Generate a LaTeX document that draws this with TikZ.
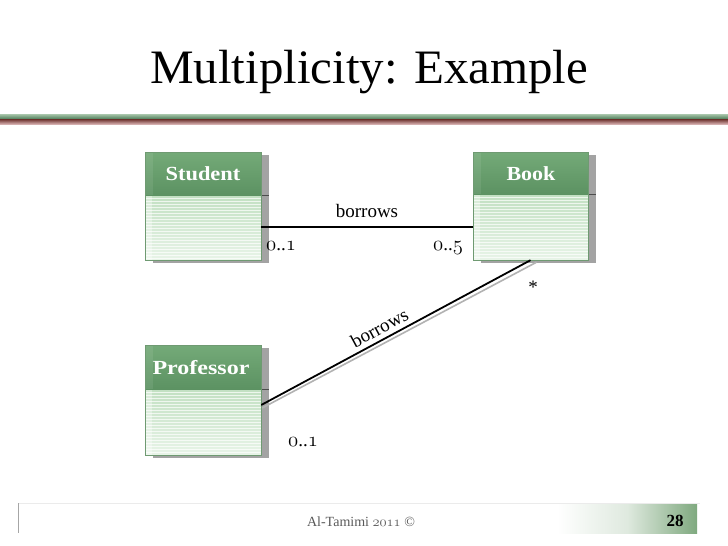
\documentclass[tikz,border=0pt]{standalone}
\usepackage{fontspec}
\setmainfont{Liberation Serif}
\usetikzlibrary{calc,fit}
\newcommand\osn[2]{{\fontencoding{OML}\fontfamily{lmm}\fontseries{m}\fontshape{it}\fontsize{#1}{#1}\selectfont #2}}
\definecolor{hdrtop}{HTML}{74AA78}
\definecolor{hdrbot}{HTML}{5C9262}
\definecolor{bodytop}{HTML}{C2E0C2}
\definecolor{bodybot}{HTML}{E8F4E8}
\definecolor{shadowgray}{HTML}{A3A3A3}
\definecolor{boxedge}{HTML}{6F9A72}
\definecolor{barGtop}{HTML}{A9C7AC}
\definecolor{barGbot}{HTML}{4E7C58}
\definecolor{barRtop}{HTML}{6A2E29}
\definecolor{barRbot}{HTML}{D4AEAE}
\definecolor{footgreen}{HTML}{7FA97F}
\newcommand\umlclass[7]{%
  \fill[shadowgray] (#2+8,#3+3) rectangle (#4+8,#5+3);
  \draw[black!70,line width=0.8pt] (#4,#6) -- (#4+8,#6);
  \shade[top color=bodytop,bottom color=bodybot] (#2,#6) rectangle (#4,#5);
  \foreach \k in {1,...,21}{\draw[white,opacity=0.7,line width=1pt] (#2,#6+3*\k) -- (#4,#6+3*\k);}
  \fill[white,opacity=0.35] (#2,#6) rectangle (#2+7,#5);
  \shade[top color=hdrtop,bottom color=hdrbot] (#2,#3) rectangle (#4,#6);
  \fill[white,opacity=0.08] (#2,#3) rectangle (#2+8,#6);
  \draw[boxedge,line width=0.6pt] (#2,#3) rectangle (#4,#5);
  \node[fit={(#2,#3) (#4,#5)},inner sep=0pt] (#1) {};
}
\begin{document}
\begin{tikzpicture}[x=1pt,y=-1pt,
  hdrtext/.style={anchor=base,text=white,font=\fontsize{20}{22}\bfseries\selectfont,inner sep=0pt},
  multtext/.style={anchor=base west,font=\fontsize{19}{21}\selectfont,inner sep=0pt},
  assoc/.style={line width=1.8pt,black},
  assocshadow/.style={line width=1.6pt,black!30}]
\useasboundingbox (0,0) rectangle (728,546);
\fill[white] (0,0) rectangle (728,546);
% title
\node[anchor=base west,font=\fontsize{48}{52}\selectfont,inner sep=0pt] (title) at (150,83) {\scalebox{1.02}[1]{Multiplicity: Example}};
% bar
\shade[top color=barGtop,bottom color=barGbot] (0,114) rectangle (728,119);
\shade[top color=barRtop,bottom color=barRbot] (0,119) rectangle (728,124);
% classes
\umlclass{student}{145}{152}{261}{260}{195}{Student}
\umlclass{book}{473}{152}{588}{260}{194}{Book}
\umlclass{professor}{145}{345}{261}{455}{389}{Professor}
\node[hdrtext] (studentlbl) at (203,180) {\scalebox{1.12}[1]{Student}};
\node[hdrtext] (booklbl) at (531,180) {\scalebox{1.1}[1]{Book}};
\node[hdrtext] (professorlbl) at (201,374) {\scalebox{1.2}[1]{Professor}};
% student - book
\draw[assoc] ([yshift=-21pt]student.east) -- ([yshift=-21pt]student.east -| book.west)
  node[midway,above=5pt,font=\fontsize{19}{21}\selectfont] (lbl1) {borrows};
\node[multtext] (m1) at (266,250) {\osn{21}{0}..\osn{21}{1}};
\node[multtext] (m2) at (433,250) {\osn{21}{0}..\osn{21}{5}};
% professor - book
\draw[assocshadow] ([shift={(1,3)}]professor.east |- 0,405) -- ([shift={(6,2)}]book.south);
\draw[assoc] (professor.east |- 0,405) -- (book.south)
  node[pos=0.46,sloped,above=1pt,font=\fontsize{19}{21}\selectfont] (lbl2) {borrows};
\node[font=\fontsize{19}{21}\selectfont,inner sep=0pt] (m3) at (533,287) {*};
\node[multtext] (m4) at (288,446) {\osn{21}{0}..\osn{21}{1}};
% footer
\draw[black!8,line width=0.6pt] (18,503) -- (700,503);
\draw[black!35,line width=0.8pt] (18,503) -- (18,533);
\shade[left color=white,right color=footgreen,middle color=footgreen!25] (557,504) rectangle (697,533);
\node[anchor=base,font=\fontsize{14}{16}\selectfont,text=black!65,inner sep=0pt] (foot) at (361,526) {Al-Tamimi \osn{15}{2011} ©};
\node[anchor=base,font=\fontsize{17}{19}\bfseries\selectfont,inner sep=0pt] (page) at (675,526) {28};
\end{tikzpicture}
\end{document}
